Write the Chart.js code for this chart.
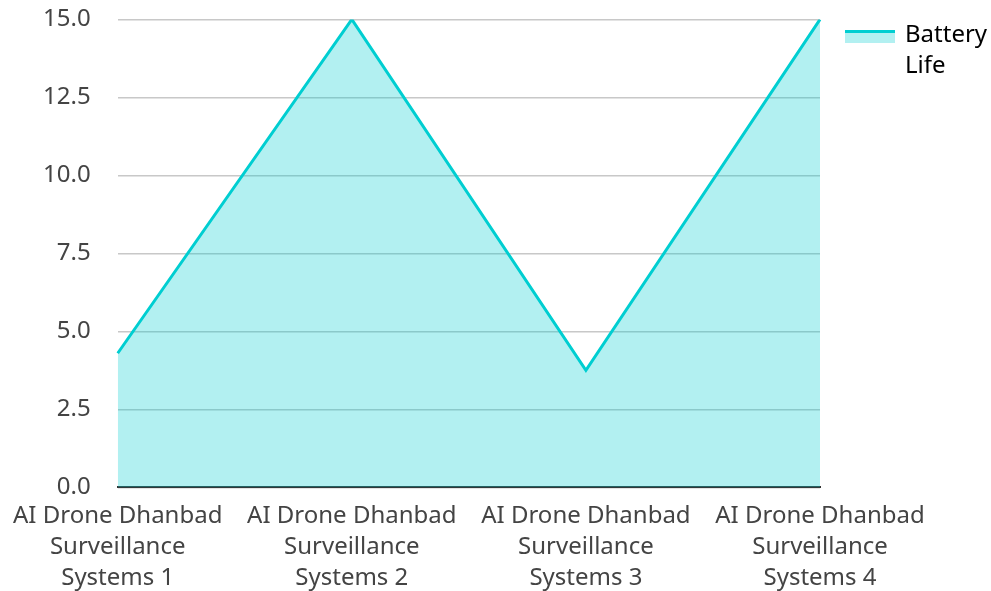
<!DOCTYPE html>
<html>
<head>
<meta charset="utf-8">
<script src="https://cdn.jsdelivr.net/npm/chart.js@4/dist/chart.umd.min.js"></script>
<style>
  html, body { margin: 0; padding: 0; background: #fff; }
  #wrap { width: 991px; height: 591px; }
</style>
</head>
<body>
<div id="wrap"><canvas id="batteryChart"></canvas></div>
<script>
// data
const categories = [
    ['AI Drone Dhanbad', 'Surveillance', 'Systems 1'],
    ['AI Drone Dhanbad', 'Surveillance', 'Systems 2'],
    ['AI Drone Dhanbad', 'Surveillance', 'Systems 3'],
    ['AI Drone Dhanbad', 'Surveillance', 'Systems 4']
];
const batteryLife = [4.3, 15, 3.75, 15];
const seriesLabel = ['Battery', 'Life'];

const lineColor = '#00CED1';
const fillColor = 'rgba(0, 206, 209, 0.3)';
const fontFamily = '"Noto Sans", "Open Sans", sans-serif';

// legend swatch: light fill with a thick line along the top
const legendSwatch = {
    id: 'legendSwatch',
    afterDraw(chart) {
        const legend = chart.legend;
        if (!legend || !legend.legendHitBoxes || !legend.legendHitBoxes.length) return;
        const box = legend.legendHitBoxes[0];
        const ctx = chart.ctx;
        const x = box.left + 2;
        const y = box.top + 7;
        ctx.save();
        ctx.fillStyle = fillColor;
        ctx.fillRect(x, y + 3, 50, 10);
        ctx.fillStyle = lineColor;
        ctx.fillRect(x, y, 50, 3);
        ctx.restore();
    }
};

document.addEventListener('DOMContentLoaded', function() {
    const ctx = document.getElementById('batteryChart').getContext('2d');
    new Chart(ctx, {
        type: 'line',
        data: {
            labels: categories,
            datasets: [{
                label: seriesLabel,
                data: batteryLife,
                borderColor: lineColor,
                backgroundColor: fillColor,
                borderWidth: 3,
                fill: 'origin',
                tension: 0,
                pointRadius: 0
            }]
        },
        options: {
            responsive: true,
            maintainAspectRatio: false,
            animation: false,
            // negative bottom so the tick labels sit close to the canvas edge
            layout: { padding: { top: 0, left: 0, right: 0, bottom: -16 } },
            scales: {
                x: {
                    offset: false,
                    grid: { display: false, drawTicks: false },
                    border: { display: true, color: '#333', width: 2 },
                    ticks: {
                        color: '#444',
                        font: { family: fontFamily, size: 24, lineHeight: 1.3 },
                        maxRotation: 0,
                        autoSkip: false,
                        padding: 13
                    }
                },
                y: {
                    min: 0,
                    max: 15,
                    grid: {
                        color: '#c8c8c8',
                        lineWidth: 1.5,
                        drawTicks: true,
                        tickLength: 22,
                        tickColor: 'rgba(0,0,0,0)'
                    },
                    border: { display: false },
                    ticks: {
                        stepSize: 2.5,
                        color: '#444',
                        padding: 5,
                        font: { family: fontFamily, size: 24 },
                        callback: v => Number(v).toFixed(1)
                    }
                }
            },
            plugins: {
                legend: {
                    display: true,
                    position: 'right',
                    align: 'start',
                    maxWidth: 171,
                    labels: {
                        color: '#333',
                        font: { family: fontFamily, size: 24, lineHeight: 1.3 },
                        boxWidth: 50,
                        boxHeight: 14,
                        padding: 23,
                        generateLabels(chart) {
                            const ds = chart.data.datasets[0];
                            return [{
                                text: ds.label,
                                fillStyle: 'rgba(0,0,0,0)',
                                strokeStyle: 'rgba(0,0,0,0)',
                                lineWidth: 0,
                                hidden: false,
                                datasetIndex: 0
                            }];
                        }
                    }
                },
                tooltip: { enabled: false }
            }
        },
        plugins: [legendSwatch]
    });
});
</script>
</body>
</html>
